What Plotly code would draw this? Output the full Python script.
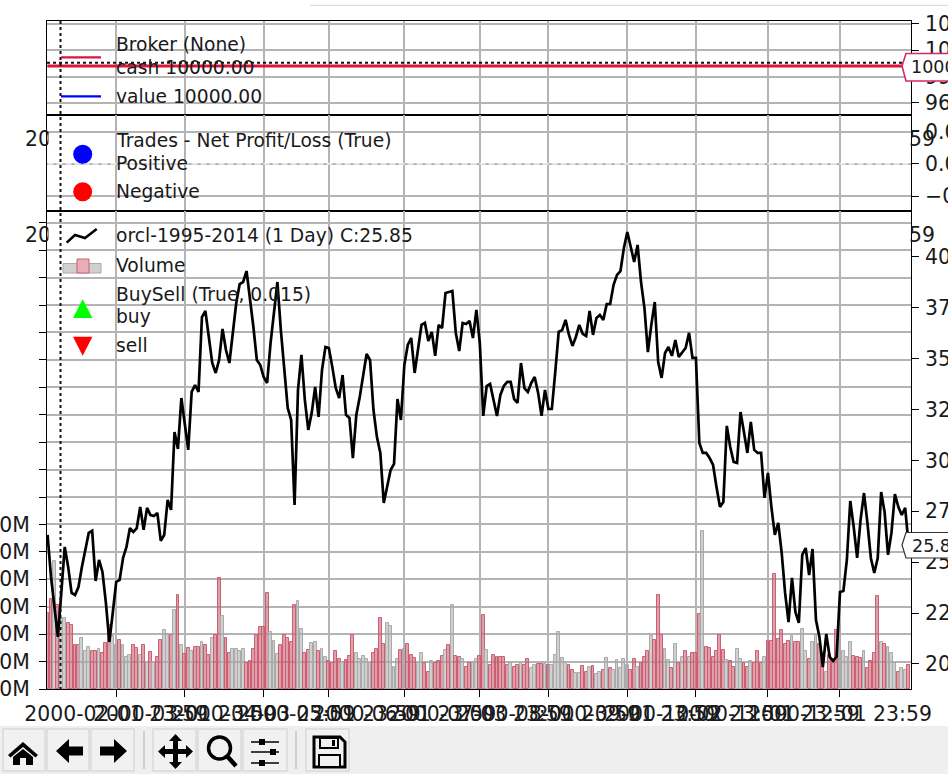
import plotly.graph_objects as go

WIDTH, HEIGHT = 948, 774
FONT = "DejaVu Sans"
INK = "#1a1a1a"
GRID = "#b4b4b4"
CRIMSON = "#dc143c"

# x axis ticks (bar index of the first trading day of each month)
month_ticks = [20, 40, 63, 82, 104, 126, 146, 169, 189, 210, 231]
month_labels = ["2000-02-01 23:59", "2000-03-01 23:59", "2000-04-03 23:59", "2000-05-01 23:59",
                "2000-06-01 23:59", "2000-07-03 23:59", "2000-08-01 23:59", "2000-09-01 23:59",
                "2000-10-02 23:59", "2000-11-01 23:59", "2000-12-01 23:59"]

close_prices = [
    26.34, 24.28, 22.80, 21.33, 23.49, 25.75, 24.77, 23.49, 23.39, 23.78,
    24.77, 25.60, 26.44, 26.54, 24.08, 25.11, 24.52, 23.00, 21.08, 22.51,
    24.03, 24.13, 25.21, 25.75, 26.68, 26.49, 26.68, 27.72, 26.59, 27.67,
    27.32, 27.27, 27.42, 26.05, 26.34, 28.06, 27.57, 31.40, 30.57, 33.07,
    31.84, 30.52, 33.37, 33.71, 33.37, 37.05, 37.35, 35.92, 34.79, 34.30,
    34.94, 36.46, 35.43, 34.79, 36.27, 37.74, 38.67, 38.77, 39.31, 38.04,
    36.56, 34.94, 34.69, 34.10, 33.81, 35.77, 37.40, 38.77, 36.41, 34.30,
    32.58, 31.99, 27.81, 33.47, 35.19, 32.97, 31.50, 32.34, 33.61, 32.14,
    34.45, 35.58, 35.53, 34.60, 33.56, 33.07, 34.20, 32.24, 32.09, 30.12,
    32.24, 33.12, 34.20, 35.23, 34.94, 32.48, 31.16, 30.37, 27.91, 28.70,
    29.53, 29.83, 33.02, 31.99, 34.69, 35.68, 36.02, 34.30, 35.43, 36.66,
    36.76, 35.87, 36.32, 35.14, 36.66, 36.51, 38.23, 38.28, 38.33, 36.27,
    35.38, 36.76, 36.71, 36.86, 36.02, 37.40, 35.77, 32.19, 33.66, 33.76,
    32.88, 32.19, 33.22, 33.66, 33.86, 33.86, 33.02, 32.83, 34.79, 33.56,
    33.37, 33.81, 34.10, 33.32, 32.19, 33.47, 32.53, 32.53, 34.35, 36.32,
    36.41, 36.91, 36.17, 35.63, 36.07, 36.66, 36.22, 36.12, 37.35, 36.17,
    37.00, 37.15, 36.91, 37.69, 37.69, 38.63, 39.12, 39.31, 40.44, 41.23,
    40.49, 39.76, 40.59, 38.77, 37.49, 35.33, 36.66, 37.79, 34.84, 34.06,
    35.28, 35.58, 35.14, 35.92, 35.09, 35.33, 35.53, 36.27, 35.04, 35.04,
    30.86, 30.37, 30.37, 30.12, 29.78, 28.70, 27.72, 27.96, 31.70, 30.66,
    29.93, 29.88, 32.38, 31.40, 30.37, 31.89, 30.52, 30.37, 30.37, 28.16,
    29.39, 27.72, 26.34, 26.93, 25.46, 23.49, 22.06, 24.23, 22.56, 22.02,
    25.36, 25.70, 24.37, 25.65, 22.16, 21.33, 19.85, 21.48, 20.35, 20.15,
    20.35, 23.54, 23.59, 25.11, 28.01, 26.73, 25.21, 27.08, 28.40, 26.93,
    25.21, 24.47, 25.21, 28.45, 27.47, 25.36, 26.44, 28.35, 27.72, 27.32,
    27.67, 25.85,
]

# traded volume in millions
volumes = [
    27.7, 32.8, 46.6, 30.8, 25.5, 25.8, 24.1, 23.4, 15.9, 15.9,
    18.6, 13.7, 15.3, 14.0, 14.0, 14.7, 13.1, 16.7, 23.4, 19.2,
    15.9, 17.9, 15.9, 11.5, 12.5, 15.9, 14.9, 12.5, 15.9, 10.0,
    13.6, 10.0, 11.5, 17.9, 21.4, 20.0, 19.8, 28.9, 34.4, 15.9,
    12.7, 14.9, 13.7, 15.3, 15.3, 17.3, 15.9, 12.5, 18.6, 19.8,
    40.5, 26.7, 18.6, 13.1, 14.5, 14.5, 14.0, 14.5, 9.4, 10.3,
    14.7, 19.8, 22.5, 22.5, 35.0, 20.8, 17.5, 12.8, 15.9, 19.8,
    18.6, 17.3, 30.6, 32.2, 21.9, 13.1, 14.3, 16.7, 17.3, 13.7,
    14.7, 11.6, 10.3, 9.4, 13.7, 10.9, 9.8, 10.4, 12.1, 19.8,
    13.1, 10.9, 12.1, 10.9, 9.4, 13.1, 14.7, 25.9, 16.5, 24.1,
    22.8, 8.2, 10.9, 14.3, 14.7, 16.4, 12.5, 11.2, 9.4, 13.1,
    9.4, 6.3, 10.3, 9.4, 10.3, 12.1, 14.3, 15.9, 30.6, 12.1,
    11.5, 10.9, 8.2, 9.4, 9.8, 10.9, 12.1, 26.9, 14.3, 8.8,
    12.5, 11.8, 11.5, 11.5, 8.8, 9.4, 8.2, 8.8, 9.4, 8.8,
    10.9, 7.6, 8.8, 9.2, 9.2, 9.2, 8.8, 8.8, 12.5, 20.8,
    11.2, 9.4, 8.8, 7.0, 5.7, 5.7, 8.5, 6.3, 8.2, 8.5,
    5.4, 6.3, 7.0, 11.4, 7.6, 7.0, 10.4, 7.6, 10.9, 8.8,
    7.0, 10.9, 7.9, 9.4, 11.5, 13.7, 19.2, 17.9, 34.4, 19.8,
    14.7, 10.4, 7.6, 16.4, 9.4, 11.5, 13.7, 11.8, 13.1, 13.1,
    27.4, 57.6, 15.3, 14.9, 11.5, 14.0, 19.8, 14.3, 10.6, 10.3,
    8.2, 14.7, 10.9, 9.4, 8.2, 10.3, 9.4, 14.0, 9.4, 11.8,
    17.5, 17.5, 42.1, 18.2, 21.4, 16.4, 17.5, 19.2, 17.3, 17.3,
    21.9, 14.0, 10.9, 17.0, 19.8, 16.4, 13.1, 6.3, 12.5, 10.6,
    21.4, 23.4, 13.7, 11.5, 17.0, 12.1, 11.5, 11.2, 14.0, 7.6,
    10.3, 13.1, 33.8, 17.3, 16.4, 15.3, 13.1, 9.4, 6.1, 7.6,
    7.0, 8.8,
]

# u = grey bar, d = red bar
volume_dirs = """
d d u d u u d d d d
u u u d d u d d d u
u d u u u d d u d u
d u d d u u d u d u
d d u d d u d d u d
d u d d u u u u d d
d d d d d u u u d d
d d d u u d d u u d
u u d d d d u d d d
u u u u u d d d d u
u u u d u d d d u u
d d u d d d u d u d
d u d d u u d d u d
d d d d d u d d u d
d u u d d u d u u u
u u d d u u d d u d
u u d u d u u u u u
d d u d d d u d d d
u u d u d u d u d d
d u d d d d d d u d
d u u d d u d d d u
d d d d d d d u d d
u u d u u d d u d d
d u u u u d d d u d
d d d u d u u u d u
u d
""".split()

bar_index = list(range(len(close_prices)))
cash_values = [10000.0] * len(bar_index)
portfolio_values = [10000.0] * len(bar_index)
trade_zero = [0.0] * len(bar_index)

# right hand axis ticks
broker_ticks = [9650, 9900, 10150, 10400]
broker_labels = ["9650", "9900", "10150", "10400"]
trade_ticks = [-0.04, 0.0, 0.04]
trade_labels = ["\u22120.04", "0.00", "0.04"]
price_ticks = [20, 22.5, 25, 27.5, 30, 32.5, 35, 37.5, 40]
price_labels = ["20.0", "22.5", "25.0", "27.5", "30.0", "32.5", "35.0", "37.5", "40.0"]
volume_ticks = list(range(0, 180, 10))
volume_labels = ["0M", "10M", "20M", "30M", "40M", "50M", "60M"] + [""] * 11

legend_rows = [
    ("Broker (None)", 45), ("cash 10000.00", 67.7), ("value 10000.00", 96),
    ("Trades - Net Profit/Loss (True)", 140.7), ("Positive", 163.3), ("Negative", 191.7),
    ("orcl-1995-2014 (1 Day) C:25.85", 235.7), ("Volume", 265.7),
    ("BuySell (True, 0.015)", 294), ("buy", 316.7), ("sell", 345),
]


def px(x):
    return x / WIDTH


def py(y):
    return 1 - y / HEIGHT


def path(points, close=True):
    # pixel points -> svg path in paper coordinates
    d = " ".join(f"{'M' if i == 0 else 'L'}{px(x):.5f},{py(y):.5f}" for i, (x, y) in enumerate(points))
    return d + (" Z" if close else "")


def poly(points, fill="black", line=None, width=0, close=True, layer="above"):
    fig.add_shape(type="path", path=path(points, close), xref="paper", yref="paper", layer=layer,
                  fillcolor=fill if close else None, line=dict(color=line or "rgba(0,0,0,0)", width=width))


def rect(x0, y0, x1, y1, fill, line=None, width=0):
    fig.add_shape(type="rect", xref="paper", yref="paper", x0=px(x0), x1=px(x1), y0=py(y0), y1=py(y1),
                  fillcolor=fill, layer="above", line=dict(color=line or "rgba(0,0,0,0)", width=width))


def segment(x0, y0, x1, y1, color, width=1, dash="solid"):
    fig.add_shape(type="line", xref="paper", yref="paper", x0=px(x0), x1=px(x1), y0=py(y0), y1=py(y1),
                  layer="above", line=dict(color=color, width=width, dash=dash))


def circle(cx, cy, r, fill=None, line=None, width=0):
    fig.add_shape(type="circle", xref="paper", yref="paper", x0=px(cx - r), x1=px(cx + r),
                  y0=py(cy + r), y1=py(cy - r), fillcolor=fill, layer="above",
                  line=dict(color=line or "rgba(0,0,0,0)", width=width))


def label(text, x, y, size=18.7, anchor="left", color=INK):
    fig.add_annotation(text=text, x=px(x), y=py(y), xref="paper", yref="paper", showarrow=False,
                       xanchor=anchor, yanchor="middle", borderpad=0, font=dict(family=FONT, size=size, color=color))


def cover(x0, y0, x1, y1):
    # white patch above a text, the way the next panel hides the date labels
    fig.add_annotation(text="&nbsp;", x=px(x0), y=py(y0), xref="paper", yref="paper", showarrow=False,
                       xanchor="left", yanchor="top", width=x1 - x0, height=y1 - y0, borderpad=0,
                       bgcolor="white", font=dict(size=1))


fig = go.Figure()

# broker panel
fig.add_trace(go.Scatter(x=bar_index, y=portfolio_values, mode="lines", name="value",
                         line=dict(color="blue", width=2), xaxis="x", yaxis="y"))
fig.add_trace(go.Scatter(x=bar_index, y=cash_values, mode="lines", name="cash",
                         line=dict(color=CRIMSON, width=3), xaxis="x", yaxis="y"))

# trades panel, only the dashed zero line has anything on it
fig.add_trace(go.Scatter(x=bar_index, y=trade_zero, mode="lines", name="zero",
                         line=dict(color="rgba(255,255,255,0.7)", width=2, dash="6px,3px"),
                         xaxis="x2", yaxis="y2"))

# price panel
fig.add_trace(go.Bar(x=bar_index, y=volumes, name="Volume", width=0.84, xaxis="x3", yaxis="y3",
                     marker=dict(color=["rgba(170,170,170,0.55)" if d == "u" else "rgba(204,96,115,0.6)" for d in volume_dirs],
                                 line=dict(color=["#aaaaaa" if d == "u" else "#cc6073" for d in volume_dirs], width=1))))
fig.add_trace(go.Scatter(x=bar_index, y=close_prices, mode="lines", name="orcl",
                         line=dict(color="black", width=2.7), xaxis="x3", yaxis="y4"))

x_range = [-0.17, 251.7]
x_common = dict(range=x_range, domain=[px(47), px(911)], tickmode="array", tickvals=month_ticks, ticktext=month_labels,
                showgrid=True, gridcolor=GRID, gridwidth=1.5, showline=True, linecolor="black", linewidth=1,
                mirror=True, zeroline=False, tickangle=0, automargin=False,
                tickfont=dict(family=FONT, size=20.4, color=INK))
y_common = dict(showline=True, linecolor="black", linewidth=1, mirror=True, zeroline=False, showgrid=True,
                gridcolor=GRID, gridwidth=1.5, tickmode="array", ticks="outside", ticklen=7, tickcolor="black",
                automargin=False, tickfont=dict(family=FONT, size=20.4, color=INK))

fig.update_layout(
    width=WIDTH, height=HEIGHT, autosize=False, margin=dict(l=0, r=0, t=0, b=0, pad=0),
    paper_bgcolor="white", plot_bgcolor="white", showlegend=False, bargap=0,
    xaxis=dict(x_common, anchor="y", showticklabels=False, ticks=""),
    xaxis2=dict(x_common, anchor="y2", showticklabels=False, ticks=""),
    xaxis3=dict(x_common, anchor="y3", ticks="outside", ticklen=7, tickcolor="black", ticklabelstandoff=0),
    yaxis=dict(y_common, domain=[py(115), py(21)], anchor="x", side="right", range=[9534, 10428],
               tickvals=broker_ticks, ticktext=broker_labels, ticklabelstandoff=2),
    yaxis2=dict(y_common, domain=[py(211), py(115)], anchor="x2", side="right", range=[-0.0586, 0.0607],
                tickvals=trade_ticks, ticktext=trade_labels, ticklabelstandoff=2),
    yaxis3=dict(y_common, domain=[py(689), py(211)], anchor="x3", side="left", range=[0, 174.3],
                tickvals=volume_ticks, ticktext=volume_labels, ticklabelstandoff=5),
    yaxis4=dict(y_common, domain=[py(689), py(211)], anchor="x3", side="right", overlaying="y3", range=[18.77, 42.26],
                tickvals=price_ticks, ticktext=price_labels, showgrid=False, ticklabelstandoff=2),
)

# cursor crosshair
segment(60.5, 21, 60.5, 689, "#111111", 2, "dot")
segment(47, 62.8, 911, 62.8, "#111111", 2, "dot")

# last value tags on the right edge
poly([(902, 66), (906, 53.5), (952, 53.5), (952, 81), (906, 81)], fill="white", line="#d6286a", width=1.6)
poly([(902, 545), (906, 532.5), (952, 532.5), (952, 558), (906, 558)], fill="white", line="#333333", width=1.2)
label("10000.00", 909.5, 66.5, size=17.5)
label("25.85", 911, 545.5, size=17.5)

# date labels of the upper panels poking out from behind the next panel
label("20", 23.5, 139, size=20.4)
label("59", 907.5, 139, size=20.4)
label("20", 23.5, 235, size=20.4)
label("59", 907.5, 235, size=20.4)
cover(47.7, 133, 52, 147)
cover(47.7, 226, 52, 245)

# legends
for text, y in legend_rows:
    label(text, 114.5, y)
segment(61, 57.3, 101, 57.3, CRIMSON, 2.2)
segment(61, 96.3, 101, 96.3, "blue", 2.2)
circle(82.7, 154.3, 9.5, fill="blue")
circle(82.7, 191.7, 9.5, fill="red")
poly([(66.7, 242.7), (75, 235), (85, 238), (96.7, 229)], line="black", width=2.5, close=False)
rect(63, 263.5, 101, 273, "#d0d0d0", "#aaaaaa", 1)
rect(77, 259, 89, 273, "#e5aeb9", "#cc6073", 1)
poly([(82.7, 299.3), (92.4, 318), (73, 318)], fill="#00ff00")
poly([(73, 336.7), (92.4, 336.7), (82.7, 355.7)], fill="red")

# window chrome: stray line on top and toolbar at the bottom
segment(310, 5.3, 948, 5.3, "#d4d4d4", 1)
rect(0, 726, 948, 774, "#efefef")
for x0, x1 in [(3, 45), (47, 89), (91, 134), (153, 196), (198, 241), (243, 287), (306, 349)]:
    rect(x0, 729, x1, 771, "#f1f1f1", "#dadada", 1.5)
segment(144, 731, 144, 769, "#c4c4c4", 1.5)
segment(296, 731, 296, 769, "#c4c4c4", 1.5)

# home
poly([(8, 755), (23, 742), (38, 755), (35.5, 757.5), (23, 747), (10.5, 757.5)])
poly([(13, 757), (23, 749), (33, 757), (33, 765), (26, 765), (26, 758), (20, 758), (20, 765), (13, 765)])
# back / forward
poly([(56, 751), (69, 739), (69, 746.5), (83, 746.5), (83, 755.5), (69, 755.5), (69, 763)])
poly([(127, 751), (114, 739), (114, 746.5), (100, 746.5), (100, 755.5), (114, 755.5), (114, 763)])
# pan
poly([(175.5, 734), (182, 741), (178, 741), (178, 749), (186, 749), (186, 745), (193, 751.5), (186, 758), (186, 754),
      (178, 754), (178, 762), (182, 762), (175.5, 769), (169, 762), (173, 762), (173, 754), (165, 754), (165, 758),
      (158, 751.5), (165, 745), (165, 749), (173, 749), (173, 741), (169, 741)])
# zoom
circle(219.5, 748, 11, line="black", width=3.5)
poly([(227, 756), (236, 766)], line="black", width=4.5, close=False)
# configure subplots
for y, knob in [(742, 262), (752, 273), (763, 262)]:
    segment(251, y, 279, y, "black", 1.5)
    rect(knob - 3, y - 3, knob + 3, y + 3, "black")
# save
poly([(314, 737), (340, 737), (345, 742), (345, 767), (314, 767)], fill="#f1f1f1", line="black", width=3)
rect(320, 738, 338, 748, "#f1f1f1", "black", 2)
rect(332, 740, 335, 746, "black")
rect(319, 755, 340, 767, "#f1f1f1", "black", 2)

fig.write_html("out.html", config=dict(displayModeBar=False), post_script="document.body.style.margin='0';")
